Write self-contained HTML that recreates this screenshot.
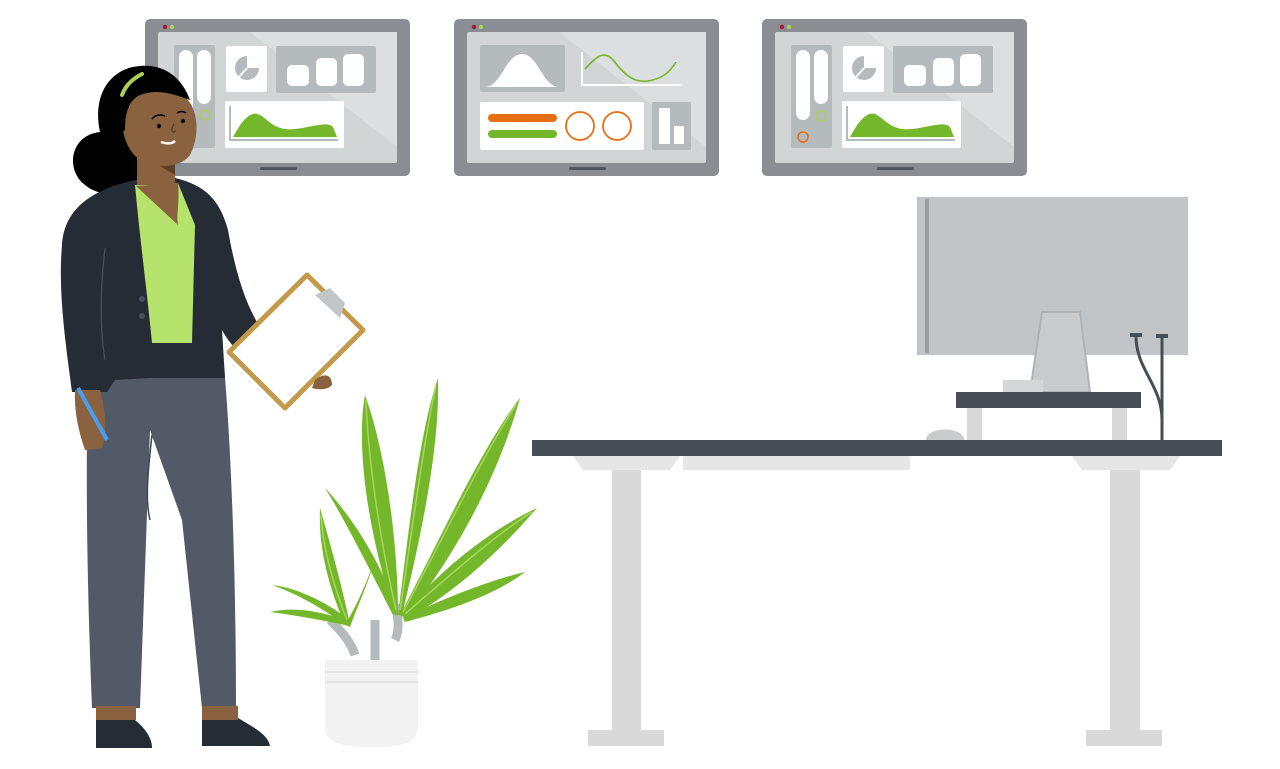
<!DOCTYPE html>
<html><head><meta charset="utf-8"><style>
html,body{margin:0;padding:0;background:#fff;width:1280px;height:769px;overflow:hidden}
svg{display:block}
</style></head><body>
<svg width="1280" height="769" viewBox="0 0 1280 769" xmlns="http://www.w3.org/2000/svg">
<defs>
<g id="frame">
  <rect x="0" y="0" width="265" height="157" rx="5" fill="#8a8e93"/>
  <rect x="13" y="13" width="239" height="131" rx="2" fill="#d2d5d6"/>
  <path d="M105 13 L252 13 L252 128 Z" fill="#dcdfe0"/>
  <circle cx="20" cy="8" r="2.2" fill="#b0153a"/>
  <circle cx="27" cy="8" r="2.2" fill="#a8d05a"/>
  <rect x="115" y="148" width="37" height="3" rx="1.5" fill="#50565e"/>
</g>
<g id="dash1">
  <rect x="29" y="26" width="41" height="103" rx="2" fill="#b5babd"/>
  <rect x="34" y="31" width="14" height="92" rx="7" fill="#fff"/>
  <rect x="52" y="31" width="14" height="54" rx="7" fill="#fff"/>
  <rect x="81" y="27" width="41" height="46" rx="2" fill="#fff"/>
  <circle cx="102" cy="49" r="12" fill="#b5babd"/>
  <path d="M102 49 L102 37 A12 12 0 0 1 114 49 Z" fill="#fff"/>
  <path d="M102 49 L94 58" stroke="#fff" stroke-width="2"/>
  <rect x="131" y="27" width="100" height="47" rx="2" fill="#b5babd"/>
  <rect x="142" y="46" width="22" height="21" rx="5" fill="#fff"/>
  <rect x="171" y="39" width="21" height="28" rx="5" fill="#fff"/>
  <rect x="198" y="35" width="21" height="32" rx="5" fill="#fff"/>
  <rect x="80" y="82" width="119" height="47" rx="2" fill="#fff"/>
  <path d="M85 87 L85 121 L193 121" stroke="#b5babd" stroke-width="2" fill="none"/>
  <path d="M88 118 C95 105 105 90 115 96 C125 102 130 112 150 110 C168 108 182 102 188 108 L192 118 Z" fill="#74b72a"/>
</g>
</defs>

<!-- Monitor 1 -->
<g transform="translate(145,19)"><use href="#frame"/><use href="#dash1"/>
<circle cx="60" cy="96" r="5" fill="none" stroke="#a8d05a" stroke-width="1.5"/></g>

<!-- Monitor 2 -->
<g transform="translate(454,19)"><use href="#frame"/>
  <rect x="26" y="26" width="85" height="47" rx="2" fill="#b5babd"/>
  <path d="M32 68 C48 66 52 35 68 35 C84 35 88 66 104 68 Z" fill="#fff"/>
  <path d="M128 33 L128 66 L228 66" stroke="#fff" stroke-width="2" fill="none"/>
  <path d="M131 50 C142 38 150 30 160 42 C172 58 182 64 194 62 C206 60 215 55 222 43" stroke="#74b72a" stroke-width="1.6" fill="none"/>
  <rect x="26" y="83" width="164" height="48" rx="2" fill="#fff"/>
  <rect x="34" y="95" width="69" height="8" rx="4" fill="#e86e14"/>
  <rect x="34" y="111" width="69" height="8" rx="4" fill="#74b72a"/>
  <circle cx="126" cy="107" r="14" fill="none" stroke="#e86e14" stroke-width="1.8"/>
  <circle cx="163" cy="107" r="14" fill="none" stroke="#e86e14" stroke-width="1.8"/>
  <rect x="198" y="83" width="39" height="48" rx="2" fill="#b5babd"/>
  <rect x="205" y="89" width="11" height="36" fill="#fff"/>
  <rect x="220" y="107" width="10" height="18" fill="#fff"/>
</g>

<!-- Monitor 3 -->
<g transform="translate(762,19)"><use href="#frame"/><use href="#dash1"/>
<rect x="34" y="31" width="14" height="92" fill="#b5babd"/>
<rect x="34" y="31" width="14" height="70" rx="7" fill="#fff"/>
<circle cx="41" cy="118" r="5" fill="none" stroke="#e86e14" stroke-width="1.5"/>
<circle cx="59" cy="97" r="5" fill="none" stroke="#a8d05a" stroke-width="1.5"/></g>

<!-- Desk monitor -->
<rect x="917" y="197" width="271" height="158" fill="#c2c5c7"/>
<rect x="925" y="199" width="4" height="154" fill="#9a9ea2"/>
<path d="M1042 312 L1080 312 L1090 392 L1030 392 Z" fill="#c9cbcd" stroke="#b0b3b6" stroke-width="2"/>
<rect x="1003" y="380" width="40" height="12" fill="#d4d6d8"/>
<rect x="956" y="392" width="185" height="16" fill="#454d57"/>
<rect x="967" y="408" width="15" height="32" fill="#d9d9d9"/>
<rect x="1112" y="408" width="15" height="32" fill="#d9d9d9"/>
<path d="M1136 336 C1136 370 1162 385 1162 420 L1162 440" stroke="#454d57" stroke-width="3" fill="none"/>
<path d="M1162 336 L1162 440" stroke="#454d57" stroke-width="3"/>
<rect x="1130" y="333" width="12" height="4" fill="#454d57"/>
<rect x="1156" y="334" width="12" height="4" fill="#454d57"/>
<path d="M926 440 C926 426 964 426 964 440 Z" fill="#c9cbcd"/>

<!-- Desk -->
<rect x="532" y="440" width="690" height="16" fill="#454d57"/>
<path d="M573 456 L680 456 L670 470 L583 470 Z" fill="#e6e6e6"/>
<rect x="683" y="456" width="227" height="14" rx="2" fill="#e6e6e6"/>
<path d="M1072 456 L1180 456 L1170 470 L1082 470 Z" fill="#e6e6e6"/>
<rect x="612" y="470" width="29" height="260" fill="#d9d9d9"/>
<rect x="588" y="730" width="76" height="16" fill="#d9d9d9"/>
<rect x="1110" y="470" width="30" height="260" fill="#d9d9d9"/>
<rect x="1086" y="730" width="76" height="16" fill="#d9d9d9"/>

<!-- Plant -->
<path d="M355 655 C350 640 340 630 330 620" stroke="#b5babd" stroke-width="9" fill="none"/>
<path d="M375 660 L375 620 M395 640 C400 630 398 615 395 605" stroke="#b5babd" stroke-width="9" fill="none"/>
<g fill="#74b72a">
  <path d="M395 615 C370 540 355 450 365 395 C385 450 398 540 398 615 Z"/>
  <path d="M398 615 C410 520 420 430 438 378 C440 450 420 540 402 615 Z"/>
  <path d="M400 615 C440 540 480 450 520 398 C500 470 460 550 405 618 Z"/>
  <path d="M402 615 C440 570 490 530 537 508 C505 545 460 590 405 620 Z"/>
  <path d="M403 618 C440 600 490 580 525 572 C495 595 450 610 405 622 Z"/>
  <path d="M393 615 C370 570 345 520 325 488 C355 520 385 570 397 612 Z"/>
  <path d="M345 625 C330 590 318 550 320 508 C332 550 343 590 350 625 Z"/>
  <path d="M345 625 C325 610 300 595 272 585 C300 588 330 605 350 620 Z"/>
  <path d="M345 625 C360 600 372 570 378 548 C370 580 358 605 350 627 Z"/>
  <path d="M345 625 C320 620 295 615 270 612 C295 606 325 612 350 622 Z"/>
</g>
<g stroke="#a7d65e" stroke-width="1.5" fill="none">
  <path d="M396 610 C380 540 368 460 366 400"/>
  <path d="M400 610 C412 530 424 440 436 385"/>
  <path d="M403 612 C440 545 480 460 516 405"/>
  <path d="M405 614 C450 575 495 535 532 512"/>
  <path d="M347 620 C335 590 323 550 321 515"/>
</g>
<path d="M325 660 L418 660 L418 725 C418 745 400 747 372 747 C344 747 325 745 325 725 Z" fill="#f2f2f2"/>
<path d="M325 672 L418 672 M325 682 L418 682" stroke="#dedede" stroke-width="1.5"/>

<!-- Person -->
<!-- hair ponytail -->
<path d="M100 132 C70 135 65 170 85 185 C100 198 125 195 137 185 L137 130 Z" fill="#000"/>
<!-- pants -->
<path d="M90 345 L222 345 C230 420 236 560 236 708 L202 708 L182 520 L150 430 L140 708 L92 708 C86 560 85 430 90 345 Z" fill="#525a68"/>
<path d="M152 435 C148 470 145 500 150 520" stroke="#3f4652" stroke-width="1.5" fill="none"/>
<!-- shoes -->
<path d="M96 720 L135 720 C145 728 152 738 152 748 L96 748 Z" fill="#252c35"/>
<path d="M202 718 L238 718 C255 728 268 735 270 746 L202 746 Z" fill="#252c35"/>
<rect x="96" y="706" width="40" height="14" fill="#8a6240"/>
<rect x="202" y="706" width="36" height="14" fill="#8a6240"/>
<!-- jacket -->
<path d="M135 180 L175 178 C205 185 220 200 228 230 C235 270 245 305 262 330 L280 345 L260 372 C245 360 230 345 222 330 L225 378 L195 378 L150 378 L115 380 L107 392 L72 392 C65 340 58 290 62 245 C64 210 90 190 135 180 Z" fill="#252c35"/>
<!-- shirt -->
<path d="M135 185 L178 183 L195 225 L192 343 L152 343 C148 300 140 240 135 185 Z" fill="#b5e36b"/>
<path d="M136 186 L178 183 C180 200 176 215 178 225 Z" fill="#8a6240"/>
<circle cx="142" cy="299" r="3" fill="#4a5260"/><circle cx="142" cy="316" r="3" fill="#4a5260"/>
<path d="M105 248 C100 290 100 330 105 360" stroke="#4a5260" stroke-width="1.2" fill="none"/>
<!-- left hand + pencil -->
<path d="M75 390 L100 390 C105 410 108 430 102 448 L85 450 C78 430 74 410 75 390 Z" fill="#8a6240"/>
<path d="M78 388 L107 440" stroke="#4a9eef" stroke-width="4"/>
<!-- neck/face -->
<rect x="137" y="150" width="38" height="35" fill="#8a6240"/>
<path d="M150 160 L175 160 L175 175 Z" fill="#5e3f27"/>
<path d="M122 100 C130 85 170 85 188 100 C200 115 198 140 190 155 C180 168 160 168 145 162 C132 158 122 140 122 120 Z" fill="#8a6240"/>
<!-- hair top -->
<path d="M100 132 C92 95 110 68 140 66 C165 64 182 78 190 100 C175 95 160 88 140 95 C130 100 125 110 125 130 L118 135 C110 140 102 138 100 132 Z" fill="#000"/>
<path d="M122 95 C126 84 134 78 142 74" stroke="#a8d05a" stroke-width="4" fill="none" stroke-linecap="round"/>
<circle cx="159" cy="126" r="2.2" fill="#000"/><circle cx="183" cy="121" r="2.2" fill="#000"/>
<path d="M152 119 C155 115 160 114 165 116 M177 113 C180 111 183 111 186 113" stroke="#000" stroke-width="1.5" fill="none"/>
<path d="M161 142 C166 144 172 144 175 141" stroke="#fff" stroke-width="2.5" fill="none"/>
<path d="M174 124 C170 130 172 134 176 131" stroke="#5e3f27" stroke-width="1.5" fill="none"/>
<!-- clipboard -->
<path d="M307 275 L363 330 L285 408 L229 352 Z" fill="#fff" stroke="#c49a4a" stroke-width="5" stroke-linejoin="round"/>
<path d="M315 295 L330 288 L345 303 L340 318 Z" fill="#c2c6c8"/>
<path d="M315 380 C325 372 332 375 332 385 C328 390 318 390 312 388 Z" fill="#8a6240"/>
</svg>
</body></html>
